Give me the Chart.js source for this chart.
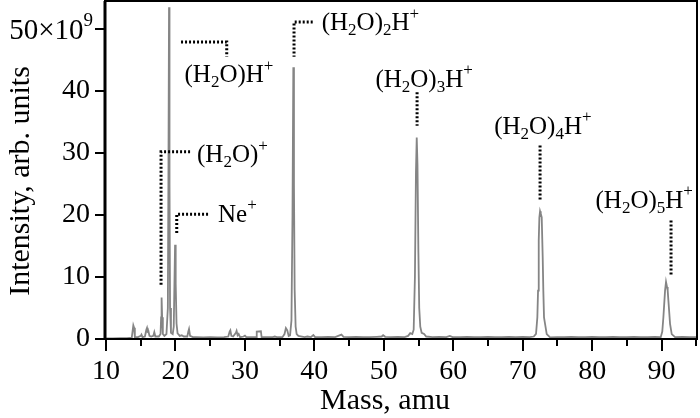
<!DOCTYPE html>
<html>
<head>
<meta charset="utf-8">
<script src="https://cdn.jsdelivr.net/npm/chart.js@4.4.1/dist/chart.umd.min.js"></script>
<style>
    html, body { margin: 0; padding: 0; background: #fff; }
    #wrap { width: 700px; height: 418px; }
</style>
</head>
<body>
<div id="wrap"><canvas id="massChart"></canvas></div>
<script>
// Mass spectrum of water clusters

const massValues = [
    10.0, 11.0, 12.0, 13.0, 13.7, 13.85, 13.93, 14.05, 14.15, 14.6,
    15.0, 15.1, 15.25, 15.6, 15.8, 15.9, 16.0, 16.1, 16.25, 16.5,
    16.8, 16.95, 17.1, 17.6, 17.85, 17.93, 18.0, 18.08, 18.18, 18.4,
    18.7, 18.9, 18.98, 19.07, 19.14, 19.22, 19.35, 19.6, 19.75, 19.85,
    19.94, 20.03, 20.15, 20.3, 20.4, 20.6, 20.9, 21.2, 21.7, 21.85,
    21.95, 22.1, 22.5, 23.0, 24.0, 25.0, 26.0, 27.0, 27.6, 27.8,
    27.9, 28.05, 28.3, 28.7, 28.8, 28.95, 29.1, 29.3, 29.8, 30.0,
    30.2, 31.0, 31.6, 31.7, 32.3, 32.4, 33.0, 34.0, 34.3, 34.6,
    35.4, 35.7, 35.9, 36.1, 36.3, 36.5, 36.7, 36.85, 36.97, 37.06,
    37.16, 37.3, 37.45, 37.7, 38.2, 38.6, 39.0, 39.5, 39.85, 40.1,
    41.0, 42.0, 43.0, 43.9, 44.2, 45.0, 46.0, 47.0, 48.0, 49.0,
    49.7, 49.9, 50.2, 51.0, 52.0, 53.0, 53.5, 53.8, 54.1, 54.3,
    54.48, 54.63, 54.74, 54.85, 54.98, 55.1, 55.25, 55.45, 55.8, 56.1,
    57.0, 58.0, 59.0, 59.5, 59.9, 61.0, 62.0, 63.0, 64.0, 65.0,
    66.0, 67.0, 68.0, 69.0, 70.0, 71.0, 71.6, 71.92, 72.11, 72.21,
    72.31, 72.4, 72.5, 72.6, 72.74, 72.88, 72.97, 73.07, 73.22, 73.46,
    73.94, 75.0, 76.0, 77.0, 78.0, 79.0, 80.0, 81.0, 82.0, 83.0,
    84.0, 85.0, 86.0, 87.0, 88.0, 89.0, 89.88, 90.1, 90.26, 90.5,
    90.64, 90.78, 90.88, 90.98, 91.22, 91.46, 91.94, 93.0, 94.0, 95.1
];

// intensity in units of 10^9
const intensityValues = [
    0.1, 0.1, 0.15, 0.15, 0.2, 1.5, 2.2, 1.8, 0.3, 0.3,
    0.5, 0.7, 0.3, 0.4, 1.5, 1.8, 1.2, 1.3, 0.5, 0.4,
    0.5, 1.1, 0.4, 0.4, 0.8, 3.5, 6.7, 3.5, 0.8, 0.5,
    0.8, 5, 25, 53.5, 25, 5, 1.0, 0.8, 2, 9,
    15.2, 9, 2.5, 0.9, 0.8, 0.5, 0.6, 0.4, 0.4, 1.2,
    1.6, 0.5, 0.3, 0.3, 0.25, 0.3, 0.25, 0.3, 0.4, 1.2,
    1.4, 0.5, 0.4, 1.0, 1.3, 0.6, 0.8, 0.3, 0.4, 0.55,
    0.3, 0.3, 0.3, 1.2, 1.25, 0.3, 0.3, 0.3, 0.4, 0.3,
    0.3, 0.8, 1.75, 1.4, 0.5, 0.6, 3, 20, 43.8, 25,
    8, 2, 0.8, 0.5, 0.4, 0.3, 0.4, 0.3, 0.65, 0.3,
    0.3, 0.35, 0.3, 0.7, 0.35, 0.3, 0.35, 0.3, 0.3, 0.35,
    0.4, 0.6, 0.35, 0.3, 0.35, 0.3, 0.5, 0.95, 0.8, 1.5,
    10, 27, 32.5, 28, 14, 5, 2, 1.0, 0.8, 0.4,
    0.3, 0.35, 0.3, 0.5, 0.3, 0.3, 0.35, 0.3, 0.3, 0.35,
    0.3, 0.3, 0.35, 0.3, 0.35, 0.3, 0.4, 0.83, 3.5, 7.8,
    15.9, 19.6, 20.6, 20.2, 19.6, 13.2, 7.8, 3.5, 2.45, 0.8,
    0.25, 0.3, 0.3, 0.35, 0.3, 0.3, 0.35, 0.3, 0.3, 0.35,
    0.3, 0.3, 0.35, 0.3, 0.3, 0.35, 0.3, 1.2, 3.5, 7.8,
    9.2, 8.4, 7.8, 6.2, 2.45, 0.8, 0.3, 0.35, 0.3, 0.3
];

const xTickValues = [10, 15, 20, 25, 30, 35, 40, 45, 50, 55, 60, 65, 70, 75, 80, 85, 90, 95];
const yTickValues = [0, 10, 20, 30, 40, 50];
const yTopLabel = '50×10^9';
const xTitle = 'Mass, amu';
const yTitle = 'Intensity, arb. units';

// peak labels: _x = subscript, ^x = superscript
const peakLabels = ['(H_2O)H^+', '(H_2O)^+', 'Ne^+', '(H_2O)_2H^+', '(H_2O)_3H^+', '(H_2O)_4H^+', '(H_2O)_5H^+'];
// label anchor in data units: [mass, intensity (baseline), align]
const labelAnchors = [
    [21.3, 41.4, 'left'],
    [23.1, 28.5, 'left'],
    [26.13, 18.9, 'left'],
    [41.06, 49.8, 'left'],
    [55.8, 40.7, 'center'],
    [72.9, 33.1, 'center'],
    [87.5, 21.2, 'center']
];
// dotted leader lines in data units
const leaderPaths = [
    [[20.8, 47.9], [27.38, 47.9], [27.38, 45.5]],
    [[22.1, 30.2], [17.92, 30.2], [17.92, 8.6]],
    [[24.69, 20.1], [20.18, 20.1], [20.18, 17.0]],
    [[39.76, 51.1], [37.07, 51.1], [37.07, 45.5]],
    [[54.79, 39.8], [54.79, 34.4]],
    [[72.5, 31.2], [72.5, 22.3]],
    [[91.36, 19.1], [91.36, 10.2]]
];

const SERIF = "'Liberation Serif', 'Times New Roman', serif";

function parseLabel(str) {
    const parts = [];
    let i = 0;
    while (i < str.length) {
        const c = str[i];
        if (c === '_' || c === '^') {
            parts.push({ t: str[i + 1], k: c === '_' ? 'sub' : 'sup' });
            i += 2;
        } else {
            if (parts.length && parts[parts.length - 1].k === 'n') {
                parts[parts.length - 1].t += c;
            } else {
                parts.push({ t: c, k: 'n' });
            }
            i++;
        }
    }
    return parts;
}

// draws text with sub/superscripts; size = main font size
function drawChem(ctx, str, x, y, align, size) {
    const parts = parseLabel(str);
    const small = Math.round(size * 0.66);
    const fontFor = k => (k === 'n' ? size : small) + 'px ' + SERIF;
    let total = 0;
    parts.forEach(p => {
        ctx.font = fontFor(p.k);
        p.w = ctx.measureText(p.t).width;
        total += p.w;
    });
    let cx = x;
    if (align === 'center') cx = x - total / 2;
    if (align === 'right') cx = x - total;
    ctx.textAlign = 'left';
    ctx.textBaseline = 'alphabetic';
    parts.forEach(p => {
        ctx.font = fontFor(p.k);
        const dy = p.k === 'sub' ? size * 0.21 : p.k === 'sup' ? -size * 0.46 : 0;
        ctx.fillText(p.t, cx, y + dy);
        cx += p.w;
    });
}

const decorPlugin = {
    id: 'decor',
    afterDraw(chart) {
        const { ctx, chartArea: a, scales: { x, y } } = chart;
        ctx.save();
        ctx.strokeStyle = '#000';
        ctx.fillStyle = '#000';
        ctx.lineWidth = 2;

        // tick marks
        ctx.beginPath();
        xTickValues.forEach(v => {
            const px = Math.round(x.getPixelForValue(v));
            const len = v % 10 === 0 ? 12 : 7;
            ctx.moveTo(px, a.bottom);
            ctx.lineTo(px, a.bottom + len);
        });
        yTickValues.forEach(v => {
            const py = Math.round(y.getPixelForValue(v));
            ctx.moveTo(a.left, py);
            ctx.lineTo(a.left - 10, py);
        });
        ctx.stroke();

        // frame
        ctx.strokeRect(a.left, a.top, a.right - a.left, a.bottom - a.top);
        ctx.lineWidth = 3;
        ctx.beginPath();
        ctx.moveTo(a.left, a.top);
        ctx.lineTo(a.left, a.bottom);
        ctx.stroke();

        // top y label with exponent
        drawChem(ctx, yTopLabel, a.left - 12, y.getPixelForValue(50) + 10, 'right', 29);

        // axis titles
        ctx.font = '30px ' + SERIF;
        ctx.textAlign = 'center';
        ctx.textBaseline = 'alphabetic';
        ctx.fillText(xTitle, 385, 409);
        ctx.save();
        ctx.translate(29, 181);
        ctx.rotate(-Math.PI / 2);
        ctx.fillText(yTitle, 0, 0);
        ctx.restore();

        // leader lines
        ctx.lineWidth = 3;
        ctx.setLineDash([2, 2]);
        leaderPaths.forEach(path => {
            ctx.beginPath();
            path.forEach(([m, v], i) => {
                const px = x.getPixelForValue(m);
                const py = y.getPixelForValue(v);
                if (i === 0) ctx.moveTo(px, py); else ctx.lineTo(px, py);
            });
            ctx.stroke();
        });
        ctx.setLineDash([]);

        // peak labels
        peakLabels.forEach((label, i) => {
            const [m, v, align] = labelAnchors[i];
            drawChem(ctx, label, x.getPixelForValue(m), y.getPixelForValue(v), align, 25);
        });
        ctx.restore();
    }
};

const noPadding = scale => {
    scale.paddingTop = 0;
    scale.paddingBottom = 0;
    scale.paddingLeft = 0;
    scale.paddingRight = 0;
};

const ctx = document.getElementById('massChart').getContext('2d');
const massChart = new Chart(ctx, {
    type: 'line',
    data: {
        datasets: [{
            label: 'Intensity',
            data: massValues.map((m, i) => ({ x: m, y: intensityValues[i] })),
            borderColor: '#858585',
            borderWidth: 1.8,
            pointRadius: 0,
            tension: 0,
            fill: false
        }]
    },
    options: {
        responsive: true,
        maintainAspectRatio: false,
        animation: false,
        layout: {
            padding: { top: 1, right: 3, left: 0, bottom: 0 }
        },
        scales: {
            x: {
                type: 'linear',
                min: 9.85,
                max: 95.1,
                afterBuildTicks: scale => {
                    scale.ticks = xTickValues.map(v => ({ value: v }));
                },
                afterFit: scale => {
                    scale.height = 79;
                    noPadding(scale);
                },
                grid: { display: false, drawTicks: false },
                border: { display: false },
                ticks: {
                    autoSkip: false,
                    maxRotation: 0,
                    padding: 16,
                    color: '#000',
                    font: { family: SERIF, size: 28 },
                    callback: value => (value % 10 === 0 ? String(value) : '')
                },
                title: { display: false }
            },
            y: {
                min: 0,
                max: 54.5,
                afterBuildTicks: scale => {
                    scale.ticks = yTickValues.map(v => ({ value: v }));
                },
                afterFit: scale => {
                    scale.width = 105;
                    noPadding(scale);
                },
                grid: { display: false, drawTicks: false },
                border: { display: false },
                ticks: {
                    padding: 15,
                    color: '#000',
                    font: { family: SERIF, size: 28 },
                    callback: value => (value === 50 ? '' : String(value))
                },
                title: { display: false }
            }
        },
        plugins: {
            legend: { display: false },
            tooltip: { enabled: false }
        }
    },
    plugins: [decorPlugin]
});
</script>
</body>
</html>
